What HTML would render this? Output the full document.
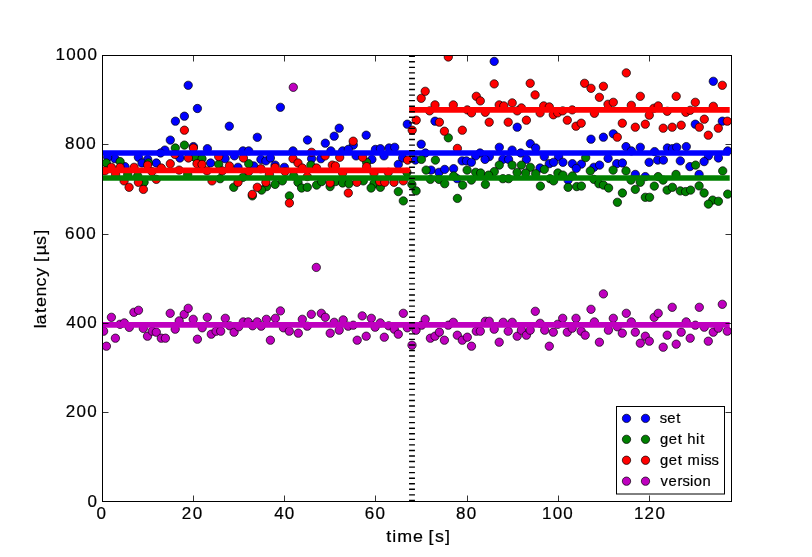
<!DOCTYPE html>
<html><head><meta charset="utf-8"><style>html,body{margin:0;padding:0;background:#fff;}svg{display:block;will-change:transform;}</style></head>
<body><svg width="812" height="557" viewBox="0 0 812 557">
<rect x="0" y="0" width="812" height="557" fill="#fff"/>
<defs><clipPath id="ax"><rect x="102.5" y="55.5" width="629.0" height="446.0"/></clipPath></defs>
<g clip-path="url(#ax)">
<g fill="#0000ff" stroke="#000" stroke-width="0.7">
<circle cx="188.2" cy="85.3" r="4.17"/>
<circle cx="197.4" cy="108.5" r="4.17"/>
<circle cx="184.4" cy="116.2" r="4.17"/>
<circle cx="175.4" cy="121.2" r="4.17"/>
<circle cx="229.3" cy="126.2" r="4.17"/>
<circle cx="280.4" cy="107.3" r="4.17"/>
<circle cx="339.2" cy="128.2" r="4.17"/>
<circle cx="334.2" cy="136.2" r="4.17"/>
<circle cx="307.5" cy="140.0" r="4.17"/>
<circle cx="325.3" cy="143.2" r="4.17"/>
<circle cx="366.2" cy="135.2" r="4.17"/>
<circle cx="407.3" cy="124.2" r="4.17"/>
<circle cx="421.2" cy="144.2" r="4.17"/>
<circle cx="494.2" cy="61.4" r="4.17"/>
<circle cx="435.0" cy="121.2" r="4.17"/>
<circle cx="517.2" cy="127.2" r="4.17"/>
<circle cx="713.3" cy="81.3" r="4.17"/>
<circle cx="695.3" cy="124.2" r="4.17"/>
<circle cx="722.3" cy="121.2" r="4.17"/>
<circle cx="591.0" cy="139.2" r="4.17"/>
<circle cx="603.4" cy="137.2" r="4.17"/>
<circle cx="613.3" cy="133.8" r="4.17"/>
<circle cx="170.3" cy="140.1" r="4.17"/>
<circle cx="193.4" cy="146.6" r="4.17"/>
<circle cx="207.4" cy="148.7" r="4.17"/>
<circle cx="164.9" cy="150.1" r="4.17"/>
<circle cx="160.6" cy="153.0" r="4.17"/>
<circle cx="179.9" cy="158.0" r="4.17"/>
<circle cx="138.4" cy="157.3" r="4.17"/>
<circle cx="114.9" cy="158.7" r="4.17"/>
<circle cx="107.7" cy="157.3" r="4.17"/>
<circle cx="147.7" cy="159.4" r="4.17"/>
<circle cx="156.3" cy="163.0" r="4.17"/>
<circle cx="142.0" cy="163.0" r="4.17"/>
<circle cx="124.9" cy="166.6" r="4.17"/>
<circle cx="210.6" cy="163.0" r="4.17"/>
<circle cx="257.3" cy="137.3" r="4.17"/>
<circle cx="243.0" cy="150.9" r="4.17"/>
<circle cx="248.7" cy="150.9" r="4.17"/>
<circle cx="234.4" cy="155.9" r="4.17"/>
<circle cx="225.1" cy="158.7" r="4.17"/>
<circle cx="260.9" cy="159.4" r="4.17"/>
<circle cx="265.9" cy="160.9" r="4.17"/>
<circle cx="270.4" cy="158.0" r="4.17"/>
<circle cx="293.0" cy="150.9" r="4.17"/>
<circle cx="311.6" cy="158.7" r="4.17"/>
<circle cx="320.9" cy="158.7" r="4.17"/>
<circle cx="330.9" cy="150.9" r="4.17"/>
<circle cx="238.0" cy="167.3" r="4.17"/>
<circle cx="253.7" cy="165.9" r="4.17"/>
<circle cx="275.1" cy="165.1" r="4.17"/>
<circle cx="284.4" cy="167.3" r="4.17"/>
<circle cx="353.3" cy="145.1" r="4.17"/>
<circle cx="342.6" cy="150.9" r="4.17"/>
<circle cx="348.3" cy="149.4" r="4.17"/>
<circle cx="375.4" cy="149.4" r="4.17"/>
<circle cx="380.4" cy="148.7" r="4.17"/>
<circle cx="389.0" cy="148.0" r="4.17"/>
<circle cx="394.7" cy="147.3" r="4.17"/>
<circle cx="356.1" cy="155.9" r="4.17"/>
<circle cx="384.0" cy="155.9" r="4.17"/>
<circle cx="371.9" cy="159.4" r="4.17"/>
<circle cx="402.6" cy="158.0" r="4.17"/>
<circle cx="425.4" cy="153.0" r="4.17"/>
<circle cx="415.4" cy="160.1" r="4.17"/>
<circle cx="398.3" cy="164.4" r="4.17"/>
<circle cx="431.1" cy="170.1" r="4.17"/>
<circle cx="439.0" cy="172.3" r="4.17"/>
<circle cx="444.7" cy="169.4" r="4.17"/>
<circle cx="499.3" cy="147.3" r="4.17"/>
<circle cx="530.3" cy="143.7" r="4.17"/>
<circle cx="535.7" cy="148.0" r="4.17"/>
<circle cx="512.1" cy="150.1" r="4.17"/>
<circle cx="520.7" cy="153.0" r="4.17"/>
<circle cx="480.0" cy="153.0" r="4.17"/>
<circle cx="475.7" cy="155.9" r="4.17"/>
<circle cx="489.3" cy="156.6" r="4.17"/>
<circle cx="485.0" cy="159.4" r="4.17"/>
<circle cx="544.3" cy="156.6" r="4.17"/>
<circle cx="558.6" cy="156.6" r="4.17"/>
<circle cx="462.1" cy="160.9" r="4.17"/>
<circle cx="466.4" cy="160.9" r="4.17"/>
<circle cx="471.4" cy="162.3" r="4.17"/>
<circle cx="502.9" cy="159.4" r="4.17"/>
<circle cx="508.6" cy="159.4" r="4.17"/>
<circle cx="526.4" cy="159.4" r="4.17"/>
<circle cx="549.3" cy="163.7" r="4.17"/>
<circle cx="553.6" cy="162.3" r="4.17"/>
<circle cx="562.9" cy="162.3" r="4.17"/>
<circle cx="453.6" cy="168.7" r="4.17"/>
<circle cx="540.0" cy="168.0" r="4.17"/>
<circle cx="457.1" cy="178.7" r="4.17"/>
<circle cx="626.0" cy="146.6" r="4.17"/>
<circle cx="631.4" cy="150.9" r="4.17"/>
<circle cx="640.3" cy="147.3" r="4.17"/>
<circle cx="654.6" cy="151.6" r="4.17"/>
<circle cx="667.4" cy="148.0" r="4.17"/>
<circle cx="672.4" cy="148.7" r="4.17"/>
<circle cx="676.7" cy="147.3" r="4.17"/>
<circle cx="608.1" cy="158.4" r="4.17"/>
<circle cx="649.1" cy="162.3" r="4.17"/>
<circle cx="657.7" cy="160.1" r="4.17"/>
<circle cx="663.4" cy="160.1" r="4.17"/>
<circle cx="680.3" cy="160.9" r="4.17"/>
<circle cx="572.4" cy="163.7" r="4.17"/>
<circle cx="581.4" cy="164.1" r="4.17"/>
<circle cx="576.3" cy="168.4" r="4.17"/>
<circle cx="593.9" cy="167.3" r="4.17"/>
<circle cx="599.6" cy="165.1" r="4.17"/>
<circle cx="616.7" cy="163.7" r="4.17"/>
<circle cx="622.4" cy="163.0" r="4.17"/>
<circle cx="635.3" cy="174.4" r="4.17"/>
<circle cx="645.3" cy="176.6" r="4.17"/>
<circle cx="568.1" cy="180.1" r="4.17"/>
<circle cx="686.3" cy="146.6" r="4.17"/>
<circle cx="727.7" cy="150.9" r="4.17"/>
<circle cx="708.4" cy="155.9" r="4.17"/>
<circle cx="718.4" cy="158.0" r="4.17"/>
<circle cx="704.1" cy="161.6" r="4.17"/>
<circle cx="689.9" cy="166.6" r="4.17"/>
<circle cx="699.1" cy="174.4" r="4.17"/>
</g>
<g fill="#008000" stroke="#000" stroke-width="0.7">
<circle cx="448.3" cy="137.8" r="4.17"/>
<circle cx="184.4" cy="145.1" r="4.17"/>
<circle cx="175.3" cy="148.0" r="4.17"/>
<circle cx="194.9" cy="157.3" r="4.17"/>
<circle cx="202.0" cy="158.7" r="4.17"/>
<circle cx="120.1" cy="161.6" r="4.17"/>
<circle cx="106.3" cy="163.0" r="4.17"/>
<circle cx="148.4" cy="163.0" r="4.17"/>
<circle cx="127.7" cy="174.4" r="4.17"/>
<circle cx="137.7" cy="175.9" r="4.17"/>
<circle cx="144.1" cy="182.3" r="4.17"/>
<circle cx="187.7" cy="174.4" r="4.17"/>
<circle cx="218.7" cy="164.4" r="4.17"/>
<circle cx="248.7" cy="163.7" r="4.17"/>
<circle cx="310.9" cy="165.1" r="4.17"/>
<circle cx="220.1" cy="178.7" r="4.17"/>
<circle cx="243.0" cy="177.3" r="4.17"/>
<circle cx="293.7" cy="175.9" r="4.17"/>
<circle cx="282.3" cy="180.9" r="4.17"/>
<circle cx="298.0" cy="182.3" r="4.17"/>
<circle cx="233.7" cy="187.3" r="4.17"/>
<circle cx="275.1" cy="184.4" r="4.17"/>
<circle cx="266.6" cy="186.6" r="4.17"/>
<circle cx="261.6" cy="190.1" r="4.17"/>
<circle cx="316.6" cy="185.1" r="4.17"/>
<circle cx="321.6" cy="181.6" r="4.17"/>
<circle cx="301.6" cy="188.0" r="4.17"/>
<circle cx="307.3" cy="187.3" r="4.17"/>
<circle cx="330.1" cy="186.6" r="4.17"/>
<circle cx="252.3" cy="195.9" r="4.17"/>
<circle cx="289.4" cy="195.9" r="4.17"/>
<circle cx="421.4" cy="159.4" r="4.17"/>
<circle cx="435.4" cy="160.1" r="4.17"/>
<circle cx="366.6" cy="162.3" r="4.17"/>
<circle cx="426.1" cy="170.1" r="4.17"/>
<circle cx="406.9" cy="172.3" r="4.17"/>
<circle cx="335.4" cy="181.6" r="4.17"/>
<circle cx="342.6" cy="183.0" r="4.17"/>
<circle cx="349.0" cy="183.7" r="4.17"/>
<circle cx="363.3" cy="180.9" r="4.17"/>
<circle cx="374.0" cy="183.7" r="4.17"/>
<circle cx="411.9" cy="184.4" r="4.17"/>
<circle cx="430.4" cy="179.4" r="4.17"/>
<circle cx="439.0" cy="179.4" r="4.17"/>
<circle cx="444.7" cy="183.7" r="4.17"/>
<circle cx="371.1" cy="188.0" r="4.17"/>
<circle cx="380.4" cy="187.3" r="4.17"/>
<circle cx="398.3" cy="191.6" r="4.17"/>
<circle cx="416.1" cy="190.9" r="4.17"/>
<circle cx="403.3" cy="200.9" r="4.17"/>
<circle cx="499.3" cy="165.1" r="4.17"/>
<circle cx="512.1" cy="165.1" r="4.17"/>
<circle cx="521.4" cy="165.1" r="4.17"/>
<circle cx="530.3" cy="167.3" r="4.17"/>
<circle cx="544.3" cy="169.4" r="4.17"/>
<circle cx="467.1" cy="170.1" r="4.17"/>
<circle cx="475.7" cy="172.3" r="4.17"/>
<circle cx="480.7" cy="173.0" r="4.17"/>
<circle cx="494.3" cy="171.6" r="4.17"/>
<circle cx="488.6" cy="175.1" r="4.17"/>
<circle cx="517.1" cy="172.3" r="4.17"/>
<circle cx="525.7" cy="173.0" r="4.17"/>
<circle cx="535.7" cy="173.7" r="4.17"/>
<circle cx="557.9" cy="173.0" r="4.17"/>
<circle cx="562.9" cy="175.1" r="4.17"/>
<circle cx="453.6" cy="175.9" r="4.17"/>
<circle cx="471.4" cy="180.1" r="4.17"/>
<circle cx="502.9" cy="178.7" r="4.17"/>
<circle cx="508.6" cy="178.7" r="4.17"/>
<circle cx="550.0" cy="178.7" r="4.17"/>
<circle cx="553.6" cy="180.9" r="4.17"/>
<circle cx="462.6" cy="185.1" r="4.17"/>
<circle cx="485.4" cy="184.4" r="4.17"/>
<circle cx="540.4" cy="186.1" r="4.17"/>
<circle cx="457.4" cy="198.4" r="4.17"/>
<circle cx="585.7" cy="157.6" r="4.17"/>
<circle cx="590.3" cy="170.9" r="4.17"/>
<circle cx="613.1" cy="170.1" r="4.17"/>
<circle cx="626.0" cy="170.9" r="4.17"/>
<circle cx="572.4" cy="175.9" r="4.17"/>
<circle cx="593.9" cy="179.4" r="4.17"/>
<circle cx="631.0" cy="180.1" r="4.17"/>
<circle cx="640.3" cy="182.3" r="4.17"/>
<circle cx="658.1" cy="176.6" r="4.17"/>
<circle cx="663.1" cy="180.1" r="4.17"/>
<circle cx="676.0" cy="174.4" r="4.17"/>
<circle cx="568.1" cy="187.3" r="4.17"/>
<circle cx="576.7" cy="186.6" r="4.17"/>
<circle cx="581.4" cy="186.1" r="4.17"/>
<circle cx="598.9" cy="183.7" r="4.17"/>
<circle cx="603.4" cy="185.1" r="4.17"/>
<circle cx="608.6" cy="188.0" r="4.17"/>
<circle cx="635.3" cy="189.4" r="4.17"/>
<circle cx="654.3" cy="186.1" r="4.17"/>
<circle cx="667.1" cy="190.1" r="4.17"/>
<circle cx="672.4" cy="187.3" r="4.17"/>
<circle cx="680.3" cy="190.9" r="4.17"/>
<circle cx="622.4" cy="193.0" r="4.17"/>
<circle cx="645.3" cy="197.3" r="4.17"/>
<circle cx="649.6" cy="197.3" r="4.17"/>
<circle cx="617.4" cy="202.3" r="4.17"/>
<circle cx="695.6" cy="165.1" r="4.17"/>
<circle cx="722.7" cy="170.9" r="4.17"/>
<circle cx="699.1" cy="185.9" r="4.17"/>
<circle cx="685.6" cy="191.6" r="4.17"/>
<circle cx="690.6" cy="190.1" r="4.17"/>
<circle cx="704.1" cy="193.0" r="4.17"/>
<circle cx="727.7" cy="194.1" r="4.17"/>
<circle cx="712.7" cy="200.1" r="4.17"/>
<circle cx="718.4" cy="201.3" r="4.17"/>
<circle cx="708.4" cy="204.1" r="4.17"/>
</g>
<g fill="#ff0000" stroke="#000" stroke-width="0.7">
<circle cx="184.4" cy="130.2" r="4.17"/>
<circle cx="353.2" cy="141.2" r="4.17"/>
<circle cx="421.2" cy="98.3" r="4.17"/>
<circle cx="425.2" cy="91.3" r="4.17"/>
<circle cx="416.2" cy="120.2" r="4.17"/>
<circle cx="412.2" cy="130.2" r="4.17"/>
<circle cx="448.3" cy="57.0" r="4.17"/>
<circle cx="494.2" cy="83.9" r="4.17"/>
<circle cx="530.2" cy="83.3" r="4.17"/>
<circle cx="535.1" cy="94.9" r="4.17"/>
<circle cx="476.3" cy="96.3" r="4.17"/>
<circle cx="480.3" cy="100.9" r="4.17"/>
<circle cx="584.6" cy="83.3" r="4.17"/>
<circle cx="435.0" cy="104.9" r="4.17"/>
<circle cx="453.3" cy="104.9" r="4.17"/>
<circle cx="429.6" cy="110.9" r="4.17"/>
<circle cx="467.3" cy="109.9" r="4.17"/>
<circle cx="471.5" cy="112.9" r="4.17"/>
<circle cx="485.3" cy="112.3" r="4.17"/>
<circle cx="499.2" cy="104.9" r="4.17"/>
<circle cx="503.8" cy="105.9" r="4.17"/>
<circle cx="512.2" cy="102.9" r="4.17"/>
<circle cx="521.4" cy="107.9" r="4.17"/>
<circle cx="517.2" cy="110.9" r="4.17"/>
<circle cx="543.7" cy="105.9" r="4.17"/>
<circle cx="549.3" cy="106.9" r="4.17"/>
<circle cx="540.1" cy="112.9" r="4.17"/>
<circle cx="553.3" cy="114.8" r="4.17"/>
<circle cx="557.7" cy="112.9" r="4.17"/>
<circle cx="562.7" cy="110.9" r="4.17"/>
<circle cx="572.2" cy="109.9" r="4.17"/>
<circle cx="439.4" cy="122.2" r="4.17"/>
<circle cx="444.4" cy="131.2" r="4.17"/>
<circle cx="462.3" cy="130.2" r="4.17"/>
<circle cx="489.2" cy="122.2" r="4.17"/>
<circle cx="508.2" cy="122.2" r="4.17"/>
<circle cx="526.4" cy="120.2" r="4.17"/>
<circle cx="567.3" cy="120.2" r="4.17"/>
<circle cx="576.0" cy="126.2" r="4.17"/>
<circle cx="581.2" cy="123.2" r="4.17"/>
<circle cx="591.0" cy="88.3" r="4.17"/>
<circle cx="603.4" cy="86.3" r="4.17"/>
<circle cx="626.3" cy="72.9" r="4.17"/>
<circle cx="599.4" cy="97.3" r="4.17"/>
<circle cx="608.0" cy="104.3" r="4.17"/>
<circle cx="613.3" cy="102.3" r="4.17"/>
<circle cx="594.4" cy="113.3" r="4.17"/>
<circle cx="631.3" cy="105.3" r="4.17"/>
<circle cx="640.3" cy="96.3" r="4.17"/>
<circle cx="649.3" cy="115.2" r="4.17"/>
<circle cx="653.8" cy="108.3" r="4.17"/>
<circle cx="658.2" cy="105.9" r="4.17"/>
<circle cx="667.2" cy="111.3" r="4.17"/>
<circle cx="676.2" cy="96.3" r="4.17"/>
<circle cx="685.8" cy="112.3" r="4.17"/>
<circle cx="690.2" cy="110.3" r="4.17"/>
<circle cx="695.3" cy="102.3" r="4.17"/>
<circle cx="713.3" cy="106.3" r="4.17"/>
<circle cx="722.3" cy="85.3" r="4.17"/>
<circle cx="622.3" cy="123.2" r="4.17"/>
<circle cx="635.3" cy="127.2" r="4.17"/>
<circle cx="645.3" cy="124.2" r="4.17"/>
<circle cx="663.2" cy="128.2" r="4.17"/>
<circle cx="672.2" cy="127.2" r="4.17"/>
<circle cx="681.2" cy="125.2" r="4.17"/>
<circle cx="699.3" cy="127.2" r="4.17"/>
<circle cx="704.3" cy="119.2" r="4.17"/>
<circle cx="708.3" cy="135.2" r="4.17"/>
<circle cx="718.3" cy="128.2" r="4.17"/>
<circle cx="727.3" cy="121.2" r="4.17"/>
<circle cx="617.3" cy="137.2" r="4.17"/>
<circle cx="193.4" cy="148.0" r="4.17"/>
<circle cx="174.9" cy="154.4" r="4.17"/>
<circle cx="188.4" cy="158.0" r="4.17"/>
<circle cx="111.3" cy="167.3" r="4.17"/>
<circle cx="120.1" cy="167.3" r="4.17"/>
<circle cx="134.1" cy="167.3" r="4.17"/>
<circle cx="147.7" cy="165.1" r="4.17"/>
<circle cx="161.3" cy="168.0" r="4.17"/>
<circle cx="170.3" cy="163.7" r="4.17"/>
<circle cx="179.1" cy="170.1" r="4.17"/>
<circle cx="197.0" cy="163.7" r="4.17"/>
<circle cx="202.0" cy="164.4" r="4.17"/>
<circle cx="104.9" cy="170.9" r="4.17"/>
<circle cx="152.0" cy="171.6" r="4.17"/>
<circle cx="207.0" cy="170.9" r="4.17"/>
<circle cx="115.6" cy="174.4" r="4.17"/>
<circle cx="124.1" cy="180.9" r="4.17"/>
<circle cx="138.4" cy="182.3" r="4.17"/>
<circle cx="156.3" cy="179.4" r="4.17"/>
<circle cx="212.0" cy="180.9" r="4.17"/>
<circle cx="129.1" cy="187.3" r="4.17"/>
<circle cx="143.4" cy="189.4" r="4.17"/>
<circle cx="218.7" cy="156.6" r="4.17"/>
<circle cx="243.4" cy="158.0" r="4.17"/>
<circle cx="293.0" cy="158.7" r="4.17"/>
<circle cx="298.0" cy="163.0" r="4.17"/>
<circle cx="311.6" cy="152.3" r="4.17"/>
<circle cx="325.1" cy="155.9" r="4.17"/>
<circle cx="229.4" cy="165.9" r="4.17"/>
<circle cx="260.9" cy="168.7" r="4.17"/>
<circle cx="275.1" cy="167.3" r="4.17"/>
<circle cx="302.3" cy="168.0" r="4.17"/>
<circle cx="316.6" cy="168.0" r="4.17"/>
<circle cx="332.3" cy="165.1" r="4.17"/>
<circle cx="222.3" cy="170.9" r="4.17"/>
<circle cx="248.7" cy="171.6" r="4.17"/>
<circle cx="285.1" cy="171.6" r="4.17"/>
<circle cx="269.4" cy="174.4" r="4.17"/>
<circle cx="307.3" cy="176.6" r="4.17"/>
<circle cx="238.0" cy="182.3" r="4.17"/>
<circle cx="265.9" cy="182.3" r="4.17"/>
<circle cx="257.3" cy="187.3" r="4.17"/>
<circle cx="330.1" cy="183.0" r="4.17"/>
<circle cx="252.3" cy="194.4" r="4.17"/>
<circle cx="289.4" cy="203.0" r="4.17"/>
<circle cx="339.7" cy="157.3" r="4.17"/>
<circle cx="362.6" cy="157.3" r="4.17"/>
<circle cx="407.6" cy="160.1" r="4.17"/>
<circle cx="335.4" cy="165.9" r="4.17"/>
<circle cx="366.6" cy="166.6" r="4.17"/>
<circle cx="342.6" cy="173.0" r="4.17"/>
<circle cx="374.0" cy="173.0" r="4.17"/>
<circle cx="388.3" cy="172.3" r="4.17"/>
<circle cx="356.9" cy="182.3" r="4.17"/>
<circle cx="379.7" cy="181.6" r="4.17"/>
<circle cx="384.7" cy="182.3" r="4.17"/>
<circle cx="394.0" cy="182.3" r="4.17"/>
<circle cx="403.3" cy="180.9" r="4.17"/>
<circle cx="348.3" cy="193.0" r="4.17"/>
<circle cx="457.4" cy="148.4" r="4.17"/>
</g>
<g fill="#bf00bf" stroke="#000" stroke-width="0.7">
<circle cx="293.3" cy="87.3" r="4.17"/>
<circle cx="111.4" cy="317.3" r="4.17"/>
<circle cx="120.0" cy="324.3" r="4.17"/>
<circle cx="124.3" cy="322.9" r="4.17"/>
<circle cx="129.3" cy="327.4" r="4.17"/>
<circle cx="133.9" cy="312.3" r="4.17"/>
<circle cx="138.5" cy="310.3" r="4.17"/>
<circle cx="143.3" cy="328.4" r="4.17"/>
<circle cx="147.5" cy="336.2" r="4.17"/>
<circle cx="152.3" cy="331.2" r="4.17"/>
<circle cx="156.3" cy="332.2" r="4.17"/>
<circle cx="161.3" cy="338.2" r="4.17"/>
<circle cx="165.4" cy="338.2" r="4.17"/>
<circle cx="170.2" cy="313.3" r="4.17"/>
<circle cx="175.2" cy="329.2" r="4.17"/>
<circle cx="179.2" cy="320.9" r="4.17"/>
<circle cx="184.2" cy="314.3" r="4.17"/>
<circle cx="188.2" cy="308.3" r="4.17"/>
<circle cx="193.2" cy="319.3" r="4.17"/>
<circle cx="197.4" cy="339.2" r="4.17"/>
<circle cx="202.2" cy="327.8" r="4.17"/>
<circle cx="207.3" cy="317.3" r="4.17"/>
<circle cx="211.3" cy="334.2" r="4.17"/>
<circle cx="216.1" cy="331.2" r="4.17"/>
<circle cx="220.7" cy="331.2" r="4.17"/>
<circle cx="225.3" cy="318.3" r="4.17"/>
<circle cx="229.7" cy="325.8" r="4.17"/>
<circle cx="234.1" cy="332.2" r="4.17"/>
<circle cx="238.7" cy="326.8" r="4.17"/>
<circle cx="243.3" cy="321.9" r="4.17"/>
<circle cx="248.2" cy="321.9" r="4.17"/>
<circle cx="252.6" cy="325.8" r="4.17"/>
<circle cx="257.2" cy="321.9" r="4.17"/>
<circle cx="261.2" cy="326.2" r="4.17"/>
<circle cx="103.6" cy="331.2" r="4.17"/>
<circle cx="115.4" cy="338.2" r="4.17"/>
<circle cx="106.4" cy="346.2" r="4.17"/>
<circle cx="316.3" cy="267.4" r="4.17"/>
<circle cx="266.4" cy="319.3" r="4.17"/>
<circle cx="275.4" cy="318.3" r="4.17"/>
<circle cx="280.4" cy="310.9" r="4.17"/>
<circle cx="270.4" cy="340.2" r="4.17"/>
<circle cx="283.4" cy="327.8" r="4.17"/>
<circle cx="289.3" cy="331.2" r="4.17"/>
<circle cx="298.3" cy="333.2" r="4.17"/>
<circle cx="302.3" cy="319.3" r="4.17"/>
<circle cx="307.3" cy="326.2" r="4.17"/>
<circle cx="311.3" cy="314.3" r="4.17"/>
<circle cx="321.3" cy="313.3" r="4.17"/>
<circle cx="325.3" cy="317.3" r="4.17"/>
<circle cx="330.2" cy="333.2" r="4.17"/>
<circle cx="334.2" cy="322.3" r="4.17"/>
<circle cx="339.2" cy="330.2" r="4.17"/>
<circle cx="343.2" cy="319.9" r="4.17"/>
<circle cx="348.2" cy="326.2" r="4.17"/>
<circle cx="353.2" cy="325.2" r="4.17"/>
<circle cx="357.2" cy="340.2" r="4.17"/>
<circle cx="362.2" cy="315.9" r="4.17"/>
<circle cx="366.2" cy="336.2" r="4.17"/>
<circle cx="371.3" cy="318.3" r="4.17"/>
<circle cx="375.1" cy="327.2" r="4.17"/>
<circle cx="380.3" cy="322.9" r="4.17"/>
<circle cx="384.3" cy="337.2" r="4.17"/>
<circle cx="388.7" cy="325.8" r="4.17"/>
<circle cx="394.3" cy="329.2" r="4.17"/>
<circle cx="398.3" cy="334.2" r="4.17"/>
<circle cx="403.3" cy="313.3" r="4.17"/>
<circle cx="407.3" cy="327.8" r="4.17"/>
<circle cx="412.0" cy="345.2" r="4.17"/>
<circle cx="416.0" cy="330.2" r="4.17"/>
<circle cx="421.6" cy="325.2" r="4.17"/>
<circle cx="425.2" cy="319.3" r="4.17"/>
<circle cx="430.4" cy="338.2" r="4.17"/>
<circle cx="435.0" cy="336.2" r="4.17"/>
<circle cx="439.4" cy="332.2" r="4.17"/>
<circle cx="444.4" cy="340.2" r="4.17"/>
<circle cx="448.3" cy="325.2" r="4.17"/>
<circle cx="453.3" cy="322.3" r="4.17"/>
<circle cx="457.3" cy="335.2" r="4.17"/>
<circle cx="462.3" cy="340.2" r="4.17"/>
<circle cx="467.3" cy="337.2" r="4.17"/>
<circle cx="471.5" cy="346.2" r="4.17"/>
<circle cx="476.3" cy="331.2" r="4.17"/>
<circle cx="480.3" cy="331.2" r="4.17"/>
<circle cx="485.3" cy="321.3" r="4.17"/>
<circle cx="489.2" cy="321.3" r="4.17"/>
<circle cx="494.2" cy="329.2" r="4.17"/>
<circle cx="499.2" cy="342.2" r="4.17"/>
<circle cx="503.2" cy="322.3" r="4.17"/>
<circle cx="508.2" cy="331.2" r="4.17"/>
<circle cx="512.2" cy="322.3" r="4.17"/>
<circle cx="517.2" cy="336.2" r="4.17"/>
<circle cx="521.4" cy="330.2" r="4.17"/>
<circle cx="526.4" cy="335.2" r="4.17"/>
<circle cx="530.2" cy="330.2" r="4.17"/>
<circle cx="535.3" cy="311.3" r="4.17"/>
<circle cx="540.1" cy="323.3" r="4.17"/>
<circle cx="544.7" cy="330.2" r="4.17"/>
<circle cx="549.3" cy="346.2" r="4.17"/>
<circle cx="553.3" cy="332.2" r="4.17"/>
<circle cx="557.7" cy="324.3" r="4.17"/>
<circle cx="562.7" cy="318.3" r="4.17"/>
<circle cx="567.3" cy="332.2" r="4.17"/>
<circle cx="572.2" cy="328.2" r="4.17"/>
<circle cx="576.0" cy="318.3" r="4.17"/>
<circle cx="581.2" cy="331.2" r="4.17"/>
<circle cx="585.2" cy="335.2" r="4.17"/>
<circle cx="591.0" cy="309.3" r="4.17"/>
<circle cx="603.4" cy="293.9" r="4.17"/>
<circle cx="594.4" cy="321.9" r="4.17"/>
<circle cx="599.4" cy="342.2" r="4.17"/>
<circle cx="608.4" cy="330.2" r="4.17"/>
<circle cx="613.3" cy="318.3" r="4.17"/>
<circle cx="617.3" cy="326.8" r="4.17"/>
<circle cx="622.3" cy="333.2" r="4.17"/>
<circle cx="626.3" cy="313.3" r="4.17"/>
<circle cx="631.3" cy="321.9" r="4.17"/>
<circle cx="635.3" cy="332.2" r="4.17"/>
<circle cx="640.3" cy="343.2" r="4.17"/>
<circle cx="645.3" cy="336.2" r="4.17"/>
<circle cx="649.3" cy="341.2" r="4.17"/>
<circle cx="654.2" cy="317.3" r="4.17"/>
<circle cx="658.2" cy="313.3" r="4.17"/>
<circle cx="663.2" cy="347.2" r="4.17"/>
<circle cx="667.2" cy="335.2" r="4.17"/>
<circle cx="672.2" cy="307.3" r="4.17"/>
<circle cx="676.2" cy="344.2" r="4.17"/>
<circle cx="681.2" cy="332.2" r="4.17"/>
<circle cx="686.2" cy="321.9" r="4.17"/>
<circle cx="690.2" cy="338.2" r="4.17"/>
<circle cx="695.3" cy="325.2" r="4.17"/>
<circle cx="699.3" cy="307.3" r="4.17"/>
<circle cx="704.3" cy="327.2" r="4.17"/>
<circle cx="708.3" cy="341.2" r="4.17"/>
<circle cx="713.3" cy="332.2" r="4.17"/>
<circle cx="718.3" cy="328.2" r="4.17"/>
<circle cx="722.3" cy="304.3" r="4.17"/>
<circle cx="727.3" cy="331.2" r="4.17"/>
</g>
<line x1="99.7" y1="152.95" x2="729.7" y2="152.95" stroke="#0000ff" stroke-width="5.6"/>
<line x1="99.7" y1="178.00" x2="729.7" y2="178.00" stroke="#008000" stroke-width="5.6"/>
<line x1="99.7" y1="170.40" x2="410.2" y2="170.40" stroke="#ff0000" stroke-width="5.6"/>
<line x1="409.2" y1="109.90" x2="729.7" y2="109.90" stroke="#ff0000" stroke-width="5.6"/>
<line x1="99.7" y1="324.90" x2="729.7" y2="324.90" stroke="#bf00bf" stroke-width="5.6"/>
<line x1="412" y1="501.5" x2="412" y2="55.5" stroke="#000" stroke-width="5.9" stroke-dasharray="1.39 4.162" stroke-dashoffset="-0.4"/>
</g>
<rect x="102.5" y="55.5" width="629.0" height="446.0" fill="none" stroke="#000" stroke-width="1"/>
<line x1="102.5" y1="501.5" x2="102.5" y2="495.5" stroke="#000" stroke-width="0.8"/>
<line x1="102.5" y1="55.5" x2="102.5" y2="61.5" stroke="#000" stroke-width="0.8"/>
<line x1="193.5" y1="501.5" x2="193.5" y2="495.5" stroke="#000" stroke-width="0.8"/>
<line x1="193.5" y1="55.5" x2="193.5" y2="61.5" stroke="#000" stroke-width="0.8"/>
<line x1="284.5" y1="501.5" x2="284.5" y2="495.5" stroke="#000" stroke-width="0.8"/>
<line x1="284.5" y1="55.5" x2="284.5" y2="61.5" stroke="#000" stroke-width="0.8"/>
<line x1="375.5" y1="501.5" x2="375.5" y2="495.5" stroke="#000" stroke-width="0.8"/>
<line x1="375.5" y1="55.5" x2="375.5" y2="61.5" stroke="#000" stroke-width="0.8"/>
<line x1="467.5" y1="501.5" x2="467.5" y2="495.5" stroke="#000" stroke-width="0.8"/>
<line x1="467.5" y1="55.5" x2="467.5" y2="61.5" stroke="#000" stroke-width="0.8"/>
<line x1="558.5" y1="501.5" x2="558.5" y2="495.5" stroke="#000" stroke-width="0.8"/>
<line x1="558.5" y1="55.5" x2="558.5" y2="61.5" stroke="#000" stroke-width="0.8"/>
<line x1="649.5" y1="501.5" x2="649.5" y2="495.5" stroke="#000" stroke-width="0.8"/>
<line x1="649.5" y1="55.5" x2="649.5" y2="61.5" stroke="#000" stroke-width="0.8"/>
<line x1="102.5" y1="501.5" x2="108.5" y2="501.5" stroke="#000" stroke-width="0.8"/>
<line x1="731.5" y1="501.5" x2="725.5" y2="501.5" stroke="#000" stroke-width="0.8"/>
<line x1="102.5" y1="412.5" x2="108.5" y2="412.5" stroke="#000" stroke-width="0.8"/>
<line x1="731.5" y1="412.5" x2="725.5" y2="412.5" stroke="#000" stroke-width="0.8"/>
<line x1="102.5" y1="323.5" x2="108.5" y2="323.5" stroke="#000" stroke-width="0.8"/>
<line x1="731.5" y1="323.5" x2="725.5" y2="323.5" stroke="#000" stroke-width="0.8"/>
<line x1="102.5" y1="234.5" x2="108.5" y2="234.5" stroke="#000" stroke-width="0.8"/>
<line x1="731.5" y1="234.5" x2="725.5" y2="234.5" stroke="#000" stroke-width="0.8"/>
<line x1="102.5" y1="144.5" x2="108.5" y2="144.5" stroke="#000" stroke-width="0.8"/>
<line x1="731.5" y1="144.5" x2="725.5" y2="144.5" stroke="#000" stroke-width="0.8"/>
<line x1="102.5" y1="55.5" x2="108.5" y2="55.5" stroke="#000" stroke-width="0.8"/>
<line x1="731.5" y1="55.5" x2="725.5" y2="55.5" stroke="#000" stroke-width="0.8"/>
<g style="font-family:&quot;Liberation Sans&quot;,sans-serif" fill="#000" stroke="#000" stroke-width="0.2">
<text transform="scale(1.05,1)" x="92.02" y="519.18" font-size="16.2" >0</text>
<text transform="scale(1.05,1)" x="173.22 183.54" y="519.18" font-size="16.2" >20</text>
<text transform="scale(1.05,1)" x="261.15 271.25" y="519.18" font-size="16.2" >40</text>
<text transform="scale(1.05,1)" x="347.46 357.56" y="519.18" font-size="16.2" >60</text>
<text transform="scale(1.05,1)" x="434.33 444.43" y="519.18" font-size="16.2" >80</text>
<text transform="scale(1.05,1)" x="516.21 526.38 536.49" y="519.18" font-size="16.2" >100</text>
<text transform="scale(1.05,1)" x="603.92 613.89 624.20" y="519.18" font-size="16.2" >120</text>
<text transform="scale(1.05,1)" x="83.30" y="506.53" font-size="16.2" >0</text>
<text transform="scale(1.05,1)" x="62.61 72.92 83.02" y="417.48" font-size="16.2" >200</text>
<text transform="scale(1.05,1)" x="63.00 73.11 83.21" y="328.38" font-size="16.2" >400</text>
<text transform="scale(1.05,1)" x="61.96 72.06 82.16" y="239.43" font-size="16.2" >600</text>
<text transform="scale(1.05,1)" x="61.96 72.06 82.16" y="149.43" font-size="16.2" >800</text>
<text transform="scale(1.05,1)" x="52.92 63.10 73.20 83.30" y="60.43" font-size="16.2" >1000</text>
<text transform="scale(1.05,1)" x="367.82 373.66 378.44 393.40 403.14 408.13 414.22 423.86" y="542.10" font-size="17.0" >time [s]</text>
<g transform="translate(45.8,279.05) rotate(-90)"><text transform="scale(1.05,1)" x="-46.81 -43.19 -32.28 -26.58 -16.66 -7.01 2.24 11.35 16.34 22.68 32.53 42.17" y="0.00" font-size="17.0" >latency [µs]</text></g>
</g>
<rect x="616.5" y="406.5" width="108" height="87.5" fill="#fff" stroke="#000" stroke-width="1"/>
<g style="font-family:&quot;Liberation Sans&quot;,sans-serif" fill="#000" stroke="#000" stroke-width="0.2">
<circle cx="626.5" cy="418.40" r="4.17" fill="#0000ff" stroke="#000" stroke-width="0.7"/>
<circle cx="645.5" cy="418.40" r="4.17" fill="#0000ff" stroke="#000" stroke-width="0.7"/>
<text transform="scale(1.04,1)" x="634.40 641.52 650.16" y="423.10" font-size="14.2" >set</text>
<circle cx="626.5" cy="439.33" r="4.17" fill="#008000" stroke="#000" stroke-width="0.7"/>
<circle cx="645.5" cy="439.33" r="4.17" fill="#008000" stroke="#000" stroke-width="0.7"/>
<text transform="scale(1.04,1)" x="634.57 643.02 651.66 656.44 660.83 669.29 673.32" y="444.00" font-size="14.2" >get hit</text>
<circle cx="626.5" cy="460.26" r="4.17" fill="#ff0000" stroke="#000" stroke-width="0.7"/>
<circle cx="645.5" cy="460.26" r="4.17" fill="#ff0000" stroke="#000" stroke-width="0.7"/>
<text transform="scale(1.04,1)" x="634.57 643.02 651.66 656.44 661.16 673.83 677.28 684.24" y="464.90" font-size="14.2" >get miss</text>
<circle cx="626.5" cy="481.19" r="4.17" fill="#bf00bf" stroke="#000" stroke-width="0.7"/>
<circle cx="645.5" cy="481.19" r="4.17" fill="#bf00bf" stroke="#000" stroke-width="0.7"/>
<text transform="scale(1.04,1)" x="635.10 642.79 651.45 656.33 663.55 667.12 675.46" y="485.80" font-size="14.2" >version</text>
</g>
</svg></body></html>
